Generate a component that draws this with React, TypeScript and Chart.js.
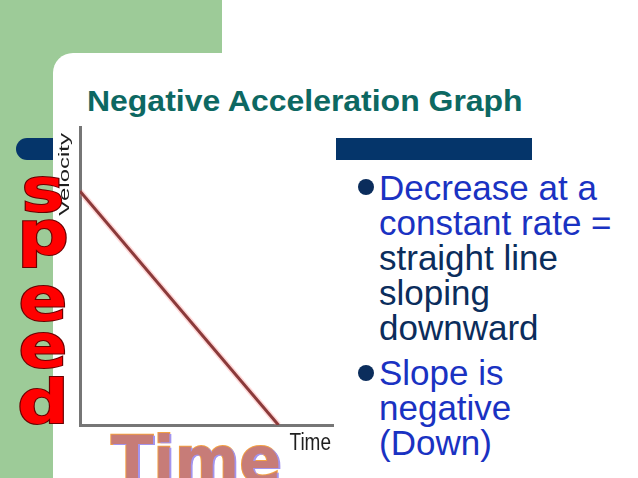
import React, { useEffect, useRef } from "react";
import { Chart, registerables } from "chart.js";

Chart.register(...registerables);

// ---- data ----
const timeValues = [0, 8];
const velocityValues = [8, 0];
const axisMaxX = 10.2;
const axisMaxY = 10.2;
const xAxisLabel = "Time";
const yAxisLabel = "Velocity";
const titleText = "Negative Acceleration Graph";
const bulletOneBlue = ["Decrease at a", "constant rate ="];
const bulletOneNavy = ["straight line", "sloping", "downward"];
const bulletTwo = ["Slope is", "negative", "(Down)"];
const speedLetters = ["s", "p", "e", "e", "d"];
const speedBaselines = [211, 254, 320, 367, 423];
const bigWord = "Time";

const GREEN = "#9dcb98";
const NAVY = "#05356a";
const BLUE = "#1a32c2";
const TEXT_NAVY = "#0b2d5c";

const axisTitlesPlugin = {
  id: "axisTitles",
  afterDraw(chart: any) {
    const { ctx, chartArea } = chart;
    const { left, top, right, bottom } = chartArea;
    ctx.save();
    ctx.fillStyle = "#1e1e1e";
    ctx.textBaseline = "alphabetic";
    ctx.textAlign = "right";
    ctx.save();
    ctx.font = '15px "Liberation Sans", Arial, sans-serif';
    ctx.translate(left - 11, top + 6);
    ctx.rotate(-Math.PI / 2);
    ctx.scale(1.6, 1);
    ctx.fillText(yAxisLabel, 0, 0);
    ctx.restore();
    ctx.save();
    ctx.font = '19px "Liberation Sans", Arial, sans-serif';
    ctx.translate(right - 2, bottom + 25);
    ctx.scale(1, 1.3);
    ctx.fillText(xAxisLabel, 0, 0);
    ctx.restore();
    ctx.restore();
  },
};

function VelocityChart() {
  const ref = useRef<HTMLCanvasElement | null>(null);
  useEffect(() => {
    if (!ref.current) return;
    const pts = timeValues.map((t, i) => ({ x: t, y: velocityValues[i] }));
    const chart = new Chart(ref.current, {
      type: "scatter",
      data: {
        datasets: [
          {
            data: pts,
            showLine: true,
            borderColor: "rgba(255,130,130,0.3)",
            borderWidth: 6,
            pointRadius: 0,
          },
          {
            data: pts,
            showLine: true,
            borderColor: "#5a1c1c",
            borderWidth: 3,
            pointRadius: 0,
          },
        ],
      },
      options: {
        animation: false,
        responsive: false,
        maintainAspectRatio: false,
        layout: { padding: { left: 22, top: 9, right: 17, bottom: 25 } },
        plugins: { legend: { display: false }, tooltip: { enabled: false }, title: { display: false } },
        scales: {
          x: {
            type: "linear",
            min: 0,
            max: axisMaxX,
            ticks: { display: false },
            grid: { display: false },
            border: { display: true, color: "#767676", width: 3 },
          },
          y: {
            type: "linear",
            min: 0,
            max: axisMaxY,
            ticks: { display: false },
            grid: { display: false },
            border: { display: true, color: "#767676", width: 3 },
          },
        },
      },
      plugins: [axisTitlesPlugin],
    });
    return () => chart.destroy();
  }, []);
  return (
    <canvas
      ref={ref}
      width={300}
      height={340}
      style={{ position: "absolute", left: 50, top: 118, width: 300, height: 340 }}
    />
  );
}

const abs = (o: React.CSSProperties): React.CSSProperties => ({ position: "absolute", ...o });

export default function App() {
  const fsB = 35;
  const lh = 35;
  return (
    <div style={abs({ left: 0, top: 0, width: 638, height: 478, overflow: "hidden", background: "#fff", fontFamily: '"Liberation Sans", Arial, sans-serif' })}>
      <div style={abs({ left: 0, top: 0, width: 222, height: 110, background: GREEN })} />
      <div style={abs({ left: 0, top: 0, width: 53, height: 478, background: GREEN })} />
      <div style={abs({ left: 53, top: 53, width: 585, height: 425, background: "#fff", borderTopLeftRadius: 20 })} />
      <div style={abs({ left: 16, top: 138, width: 37, height: 22, background: NAVY, borderRadius: "11px 0 0 11px" })} />
      <div style={abs({ left: 336, top: 138, width: 196, height: 22, background: NAVY })} />

      <div
        style={abs({
          left: 87,
          top: 111 - 0.8465 * 30,
          fontSize: 30,
          lineHeight: "30px",
          fontWeight: "bold",
          color: "#0d6862",
          whiteSpace: "nowrap",
          transform: "scaleX(1.065)",
          transformOrigin: "left top",
        })}
      >
        {titleText}
      </div>

      <VelocityChart />

      {speedLetters.map((ch, i) => (
        <div
          key={i}
          style={abs({
            left: 4,
            width: 78,
            textAlign: "center",
            top: speedBaselines[i] - 0.846 * 60,
            fontSize: 60,
            lineHeight: "60px",
            fontWeight: "bold",
            fontFamily: '"DejaVu Sans", sans-serif',
            color: "#ff0000",
            WebkitTextStroke: "2px #6a0000",
            paintOrder: "stroke fill",
            transform: "scaleX(1.2)",
          } as React.CSSProperties)}
        >
          {ch}
        </div>
      ))}

      <div
        style={abs({
          left: 111,
          top: 482 - 0.846 * 64,
          fontSize: 64,
          lineHeight: "64px",
          fontWeight: "bold",
          fontFamily: '"DejaVu Sans", sans-serif',
          color: "#c77c78",
          WebkitTextStroke: "2px #f2a044",
          paintOrder: "stroke fill",
          textShadow: "2px 1px 0 #a394ee",
          whiteSpace: "nowrap",
          transform: "scaleX(0.97)",
          transformOrigin: "left top",
        } as React.CSSProperties)}
      >
        {bigWord}
      </div>

      <div style={abs({ left: 358, top: 179, width: 16, height: 16, borderRadius: 8, background: TEXT_NAVY })} />
      <div style={abs({ left: 358, top: 365, width: 16, height: 16, borderRadius: 8, background: TEXT_NAVY })} />

      <div style={abs({ left: 379, top: 200 - 29.6, fontSize: fsB, lineHeight: lh + "px", whiteSpace: "nowrap" })}>
        {bulletOneBlue.map((t, i) => (
          <div key={"b" + i} style={{ color: BLUE }}>{t}</div>
        ))}
        {bulletOneNavy.map((t, i) => (
          <div key={"n" + i} style={{ color: TEXT_NAVY }}>{t}</div>
        ))}
      </div>
      <div style={abs({ left: 379, top: 385 - 29.6, fontSize: fsB, lineHeight: lh + "px", whiteSpace: "nowrap" })}>
        {bulletTwo.map((t, i) => (
          <div key={"s" + i} style={{ color: BLUE }}>{t}</div>
        ))}
      </div>
    </div>
  );
}
